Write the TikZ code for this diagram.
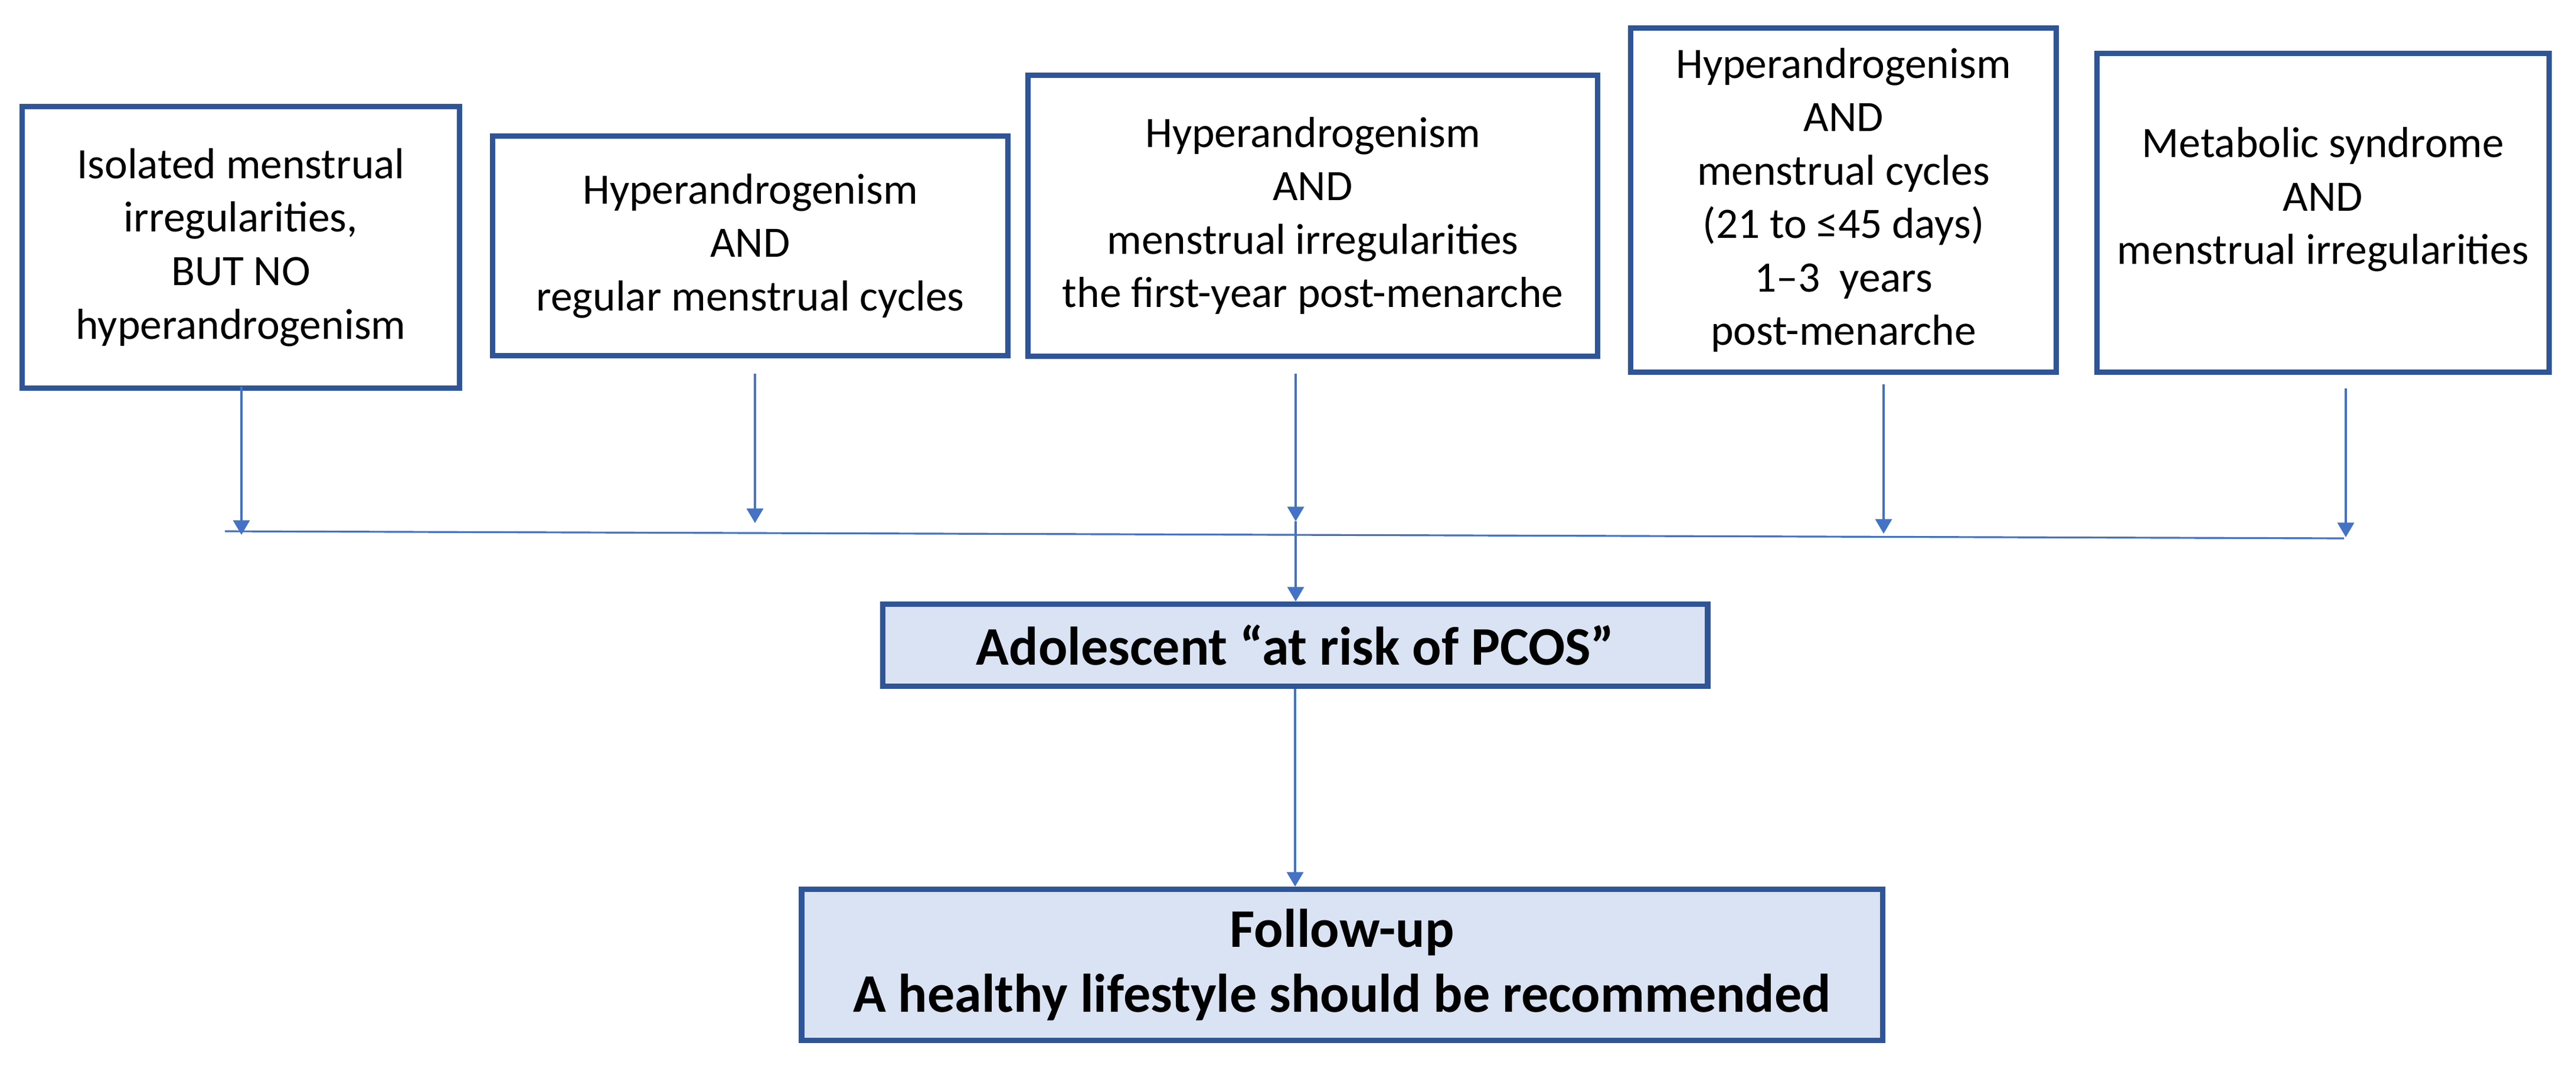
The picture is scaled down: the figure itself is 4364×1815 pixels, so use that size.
\documentclass[tikz,border=0pt]{standalone}
\usepackage{fontspec}
\setmainfont{Carlito}
\usetikzlibrary{arrows.meta}
\definecolor{boxborder}{HTML}{2F5597}
\definecolor{boxfill}{HTML}{DAE3F3}
\definecolor{arrowblue}{HTML}{4472C4}
\tikzset{
  box/.style={draw=boxborder, line width=2.6pt, rectangle, align=center, inner sep=2pt,
    font=\fontsize{20.9pt}{25.75pt}\selectfont},
  boldbox/.style={box, fill=boxfill, font=\fontsize{26.2pt}{31.5pt}\selectfont\bfseries},
  plain/.style={align=center, inner sep=0pt, font=\fontsize{20.9pt}{25.75pt}\selectfont},
  conn/.style={draw=arrowblue, line width=0.9pt},
  arr/.style={conn, -{Triangle[length=7pt,width=8pt]}},
}
\begin{document}
\begin{tikzpicture}[x=0.01cm,y=-0.01cm]
\useasboundingbox (0,0) rectangle (4364,1815);

% top row boxes
\node[box, minimum width=7.41cm, minimum height=4.77cm] (b1) at (408,419)
  {Isolated menstrual\\irregularities,\\BUT NO\\hyperandrogenism};
\node[box, minimum width=8.73cm, minimum height=3.72cm] (b2) at (1271,416.5)
  {Hyperandrogenism\\AND\\regular menstrual cycles};
\node[box, minimum width=9.65cm, minimum height=4.76cm] (b3) at (2224,365.5)
  {Hyperandrogenism\\AND\\menstrual irregularities\\the first-year post-menarche};
\node[box, minimum width=7.21cm, minimum height=5.83cm] (b4) at (3123,339)
  {Hyperandrogenism\\AND\\menstrual cycles\\(21 to ≤45 days)\\1–3\ \ years\\post-menarche};
\node[box, minimum width=7.66cm, minimum height=5.40cm] (b5) at (3935.5,360.5) {};
\node[plain] (t5) at (3935.5,338)
  {Metabolic syndrome\\AND\\menstrual irregularities};

% lower boxes
\node[boldbox, minimum width=13.97cm, minimum height=1.39cm] (ad) at (2194,1093)
  {Adolescent “at risk of PCOS”};
\node[boldbox, minimum width=18.30cm, minimum height=2.56cm] (fu) at (2273.5,1634.5)
  {Follow-up\\A healthy lifestyle should be recommended};

% bus line and arrow ends
\coordinate (busL) at (381,900);
\coordinate (busR) at (3971,912);
\coordinate (e1) at (409,906);
\coordinate (e2) at (1279,886);
\coordinate (e3) at (2195,883);
\coordinate (e4) at (3191,904);
\coordinate (e5) at (3974,910);

\draw[conn] (busL) -- (busR);
\draw[arr] (b1.south -| e1) ++(0,-7) -- (e1);
\draw[arr] (b2.south -| e2) ++(0,26) -- (e2);
\draw[arr] (b3.south -| e3) ++(0,25) -- (e3);
\draw[arr] (b4.south -| e4) ++(0,16) -- (e4);
\draw[arr] (b5.south -| e5) ++(0,23) -- (e5);

\draw[arr] (e3) -- (ad.north -| e3);
\draw[arr] (ad.south) -- (fu.north -| ad.south);
\end{tikzpicture}
\end{document}
